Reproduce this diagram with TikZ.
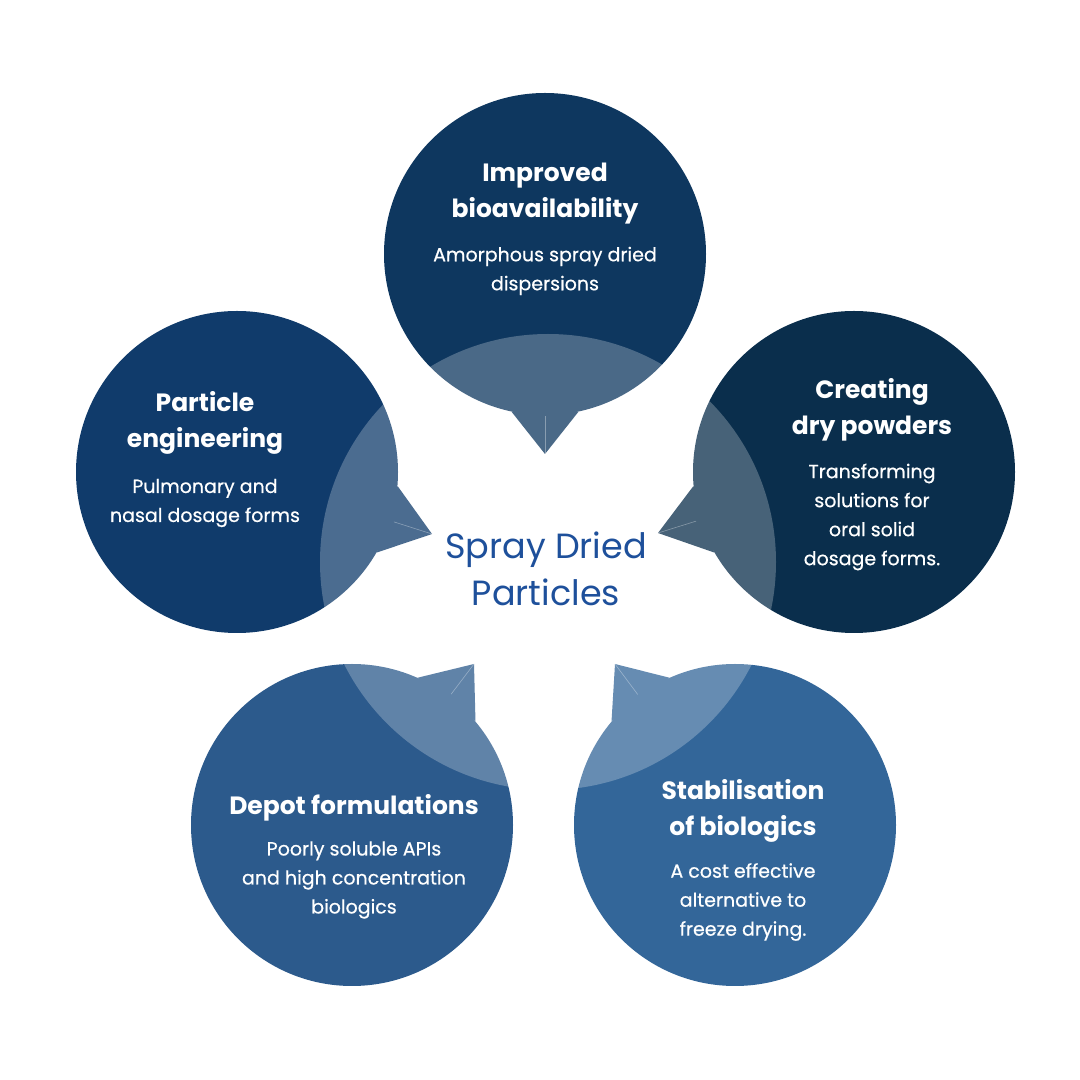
\documentclass[tikz,border=0pt]{standalone}
\usepackage{fontspec}
\setmainfont{Poppins}
\newfontfamily\subfont{Poppins}[FakeBold=0.5]
\usetikzlibrary{positioning, calc}
\definecolor{navyA}{RGB}{14, 55, 95}
\definecolor{navyB}{RGB}{16, 59, 107}
\definecolor{navyC}{RGB}{10, 46, 76}
\definecolor{steelA}{RGB}{44, 90, 140}
\definecolor{steelB}{RGB}{51, 102, 153}
\definecolor{hubtext}{RGB}{30, 80, 155}

\begin{document}
\begin{tikzpicture}[
    x=1pt, y=1pt,
    bubble/.style={circle, minimum size=322pt, inner sep=0pt},
    title/.style={text=white, align=center, font=\bfseries\fontsize{25}{36}\selectfont},
    sub/.style={text=white, align=center, font=\subfont\fontsize{19}{29}\selectfont},
    glint/.style={draw=white, draw opacity=0.35, line width=0.6pt}
  ]
    \fill[white] (0,0) rectangle (1080,1080);

    \node[bubble, fill=navyA] (imp) at (545,826) {};
    \node[bubble, fill=navyB] (part) at (237,608) {};
    \node[bubble, fill=navyC] (dry) at (854,608) {};
    \node[bubble, fill=steelA] (depot) at (352,255) {};
    \node[bubble, fill=steelB] (stab) at (735,255) {};

    \coordinate (impTip) at (545,626);
    \coordinate (partTip) at (432,546);
    \coordinate (dryTip) at (658,547);
    \coordinate (depotTip) at (474,416);
    \coordinate (stabTip) at (615,416);

    \fill[navyA] (imp.258) -- (impTip) -- (imp.282) -- cycle;
    \fill[navyB] (part.330) -- (partTip) -- (part.355) -- cycle;
    \fill[navyC] (dry.185) -- (dryTip) -- (dry.210) -- cycle;
    \fill[steelA] (depot.40) -- (depotTip) -- (depot.66) -- cycle;
    \fill[steelB] (stab.114) -- (stabTip) -- (stab.140) -- cycle;

    % light disc shows only on the bubbles
    \fill[white, fill opacity=0.25] (548,518) circle (228);

    \draw[glint] (impTip) -- ($(impTip)!38pt!(imp)$);
    \draw[glint] (partTip) -- ($(partTip)!40pt!(part)$);
    \draw[glint] (dryTip) -- ($(dryTip)!40pt!(dry)$);
    \draw[glint] (depotTip) -- ($(depotTip)!38pt!(depot)$);
    \draw[glint] (stabTip) -- ($(stabTip)!38pt!(stab)$);

    \node[title] (impT) at (545,886) {Improved\\bioavailability};
    \node[sub] (impS) at (545,809) {Amorphous spray dried\\dispersions};

    \node[title] (partT) at (205,657) {Particle\\engineering};
    \node[sub] (partS) at (205,577) {Pulmonary and\\nasal dosage forms};

    \node[title] (dryT) at (872,670) {Creating\\dry powders};
    \node[sub] (dryS) at (872,563) {Transforming\\solutions for\\oral solid\\dosage forms.};

    \node[title] (depotT) at (354,272) {Depot formulations};
    \node[sub] (depotS) at (354,200) {Poorly soluble APIs\\and high concentration\\biologics};

    \node[title] (stabT) at (743,269) {Stabilisation\\of biologics};
    \node[sub] (stabS) at (743,178) {A cost effective\\alternative to\\freeze drying.};

    \node[text=hubtext, align=center, font=\fontsize{35}{47}\selectfont] (hub) at (546,511) {Spray Dried\\Particles};
  \end{tikzpicture}
\end{document}
